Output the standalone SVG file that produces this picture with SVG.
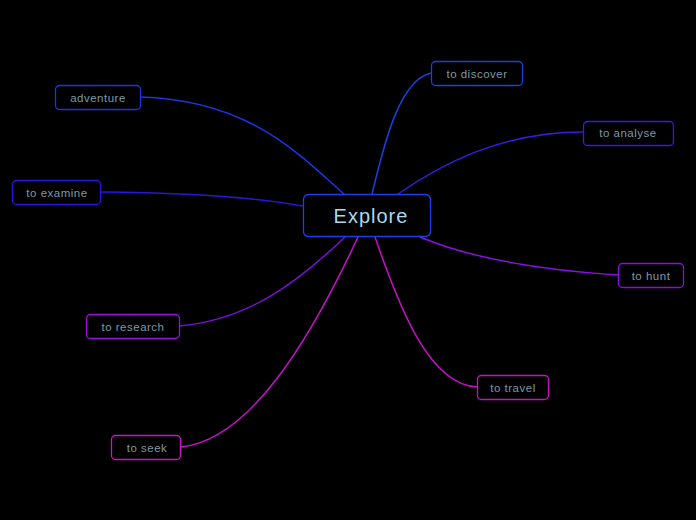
<svg xmlns="http://www.w3.org/2000/svg" width="696" height="520" viewBox="0 0 696 520">
<style>
.n rect{fill:#000;stroke-width:1.3}
.n text{font-family:"Liberation Sans",sans-serif;font-size:11.5px;fill:#7d98a8;text-anchor:middle;letter-spacing:0.5px}
.c path{fill:none;stroke-width:1.5}
</style>
<rect width="696" height="520" fill="#000"/>
<g class="c">
<path d="M140,97 C250,100 300,155 345,195" stroke="#1a35e8"/>
<path d="M101,192 C200,193 260,198 303,206" stroke="#2a16d8"/>
<path d="M179,326 C250,320 300,280 345,237" stroke="#7a10d8"/>
<path d="M181,447 C250,440 310,340 358,237" stroke="#c810d0"/>
<path d="M431,73 C400,80 385,140 372,194" stroke="#1a40e0"/>
<path d="M583,132 C500,132 440,165 398,194" stroke="#3a1ae0"/>
<path d="M618,275 C540,270 470,258 420,237" stroke="#8a10e0"/>
<path d="M477,387 C430,385 400,310 375,237" stroke="#c810c8"/>
</g>
<g id="explore" class="n"><rect x="303.5" y="194.5" width="127" height="42" rx="5" stroke="#1a40f0" stroke-width="2"/><text x="371" y="223" style="font-size:20px;fill:#a8d8f0;letter-spacing:1px">Explore</text></g>
<g id="adventure" class="n"><rect x="55.5" y="85.5" width="85" height="24" rx="4" stroke="#1a35e8"/><text x="98" y="102">adventure</text></g>
<g id="examine" class="n"><rect x="12.5" y="180.5" width="88" height="24" rx="4" stroke="#2a16e0"/><text x="57" y="197">to examine</text></g>
<g id="research" class="n"><rect x="86.5" y="314.5" width="93" height="24" rx="4" stroke="#9a10e0"/><text x="133" y="331">to research</text></g>
<g id="seek" class="n"><rect x="111.5" y="435.5" width="69" height="24" rx="4" stroke="#d010c8"/><text x="147" y="452">to seek</text></g>
<g id="discover" class="n"><rect x="431.5" y="61.5" width="91" height="24" rx="4" stroke="#1a40e0"/><text x="477" y="78">to discover</text></g>
<g id="analyse" class="n"><rect x="583.5" y="121.5" width="90" height="24" rx="4" stroke="#3a1ae0"/><text x="628" y="137">to analyse</text></g>
<g id="hunt" class="n"><rect x="618.5" y="263.5" width="65" height="24" rx="4" stroke="#8a10e0"/><text x="651" y="280">to hunt</text></g>
<g id="travel" class="n"><rect x="477.5" y="375.5" width="71" height="24" rx="4" stroke="#d010c0"/><text x="513" y="392">to travel</text></g>
</svg>
